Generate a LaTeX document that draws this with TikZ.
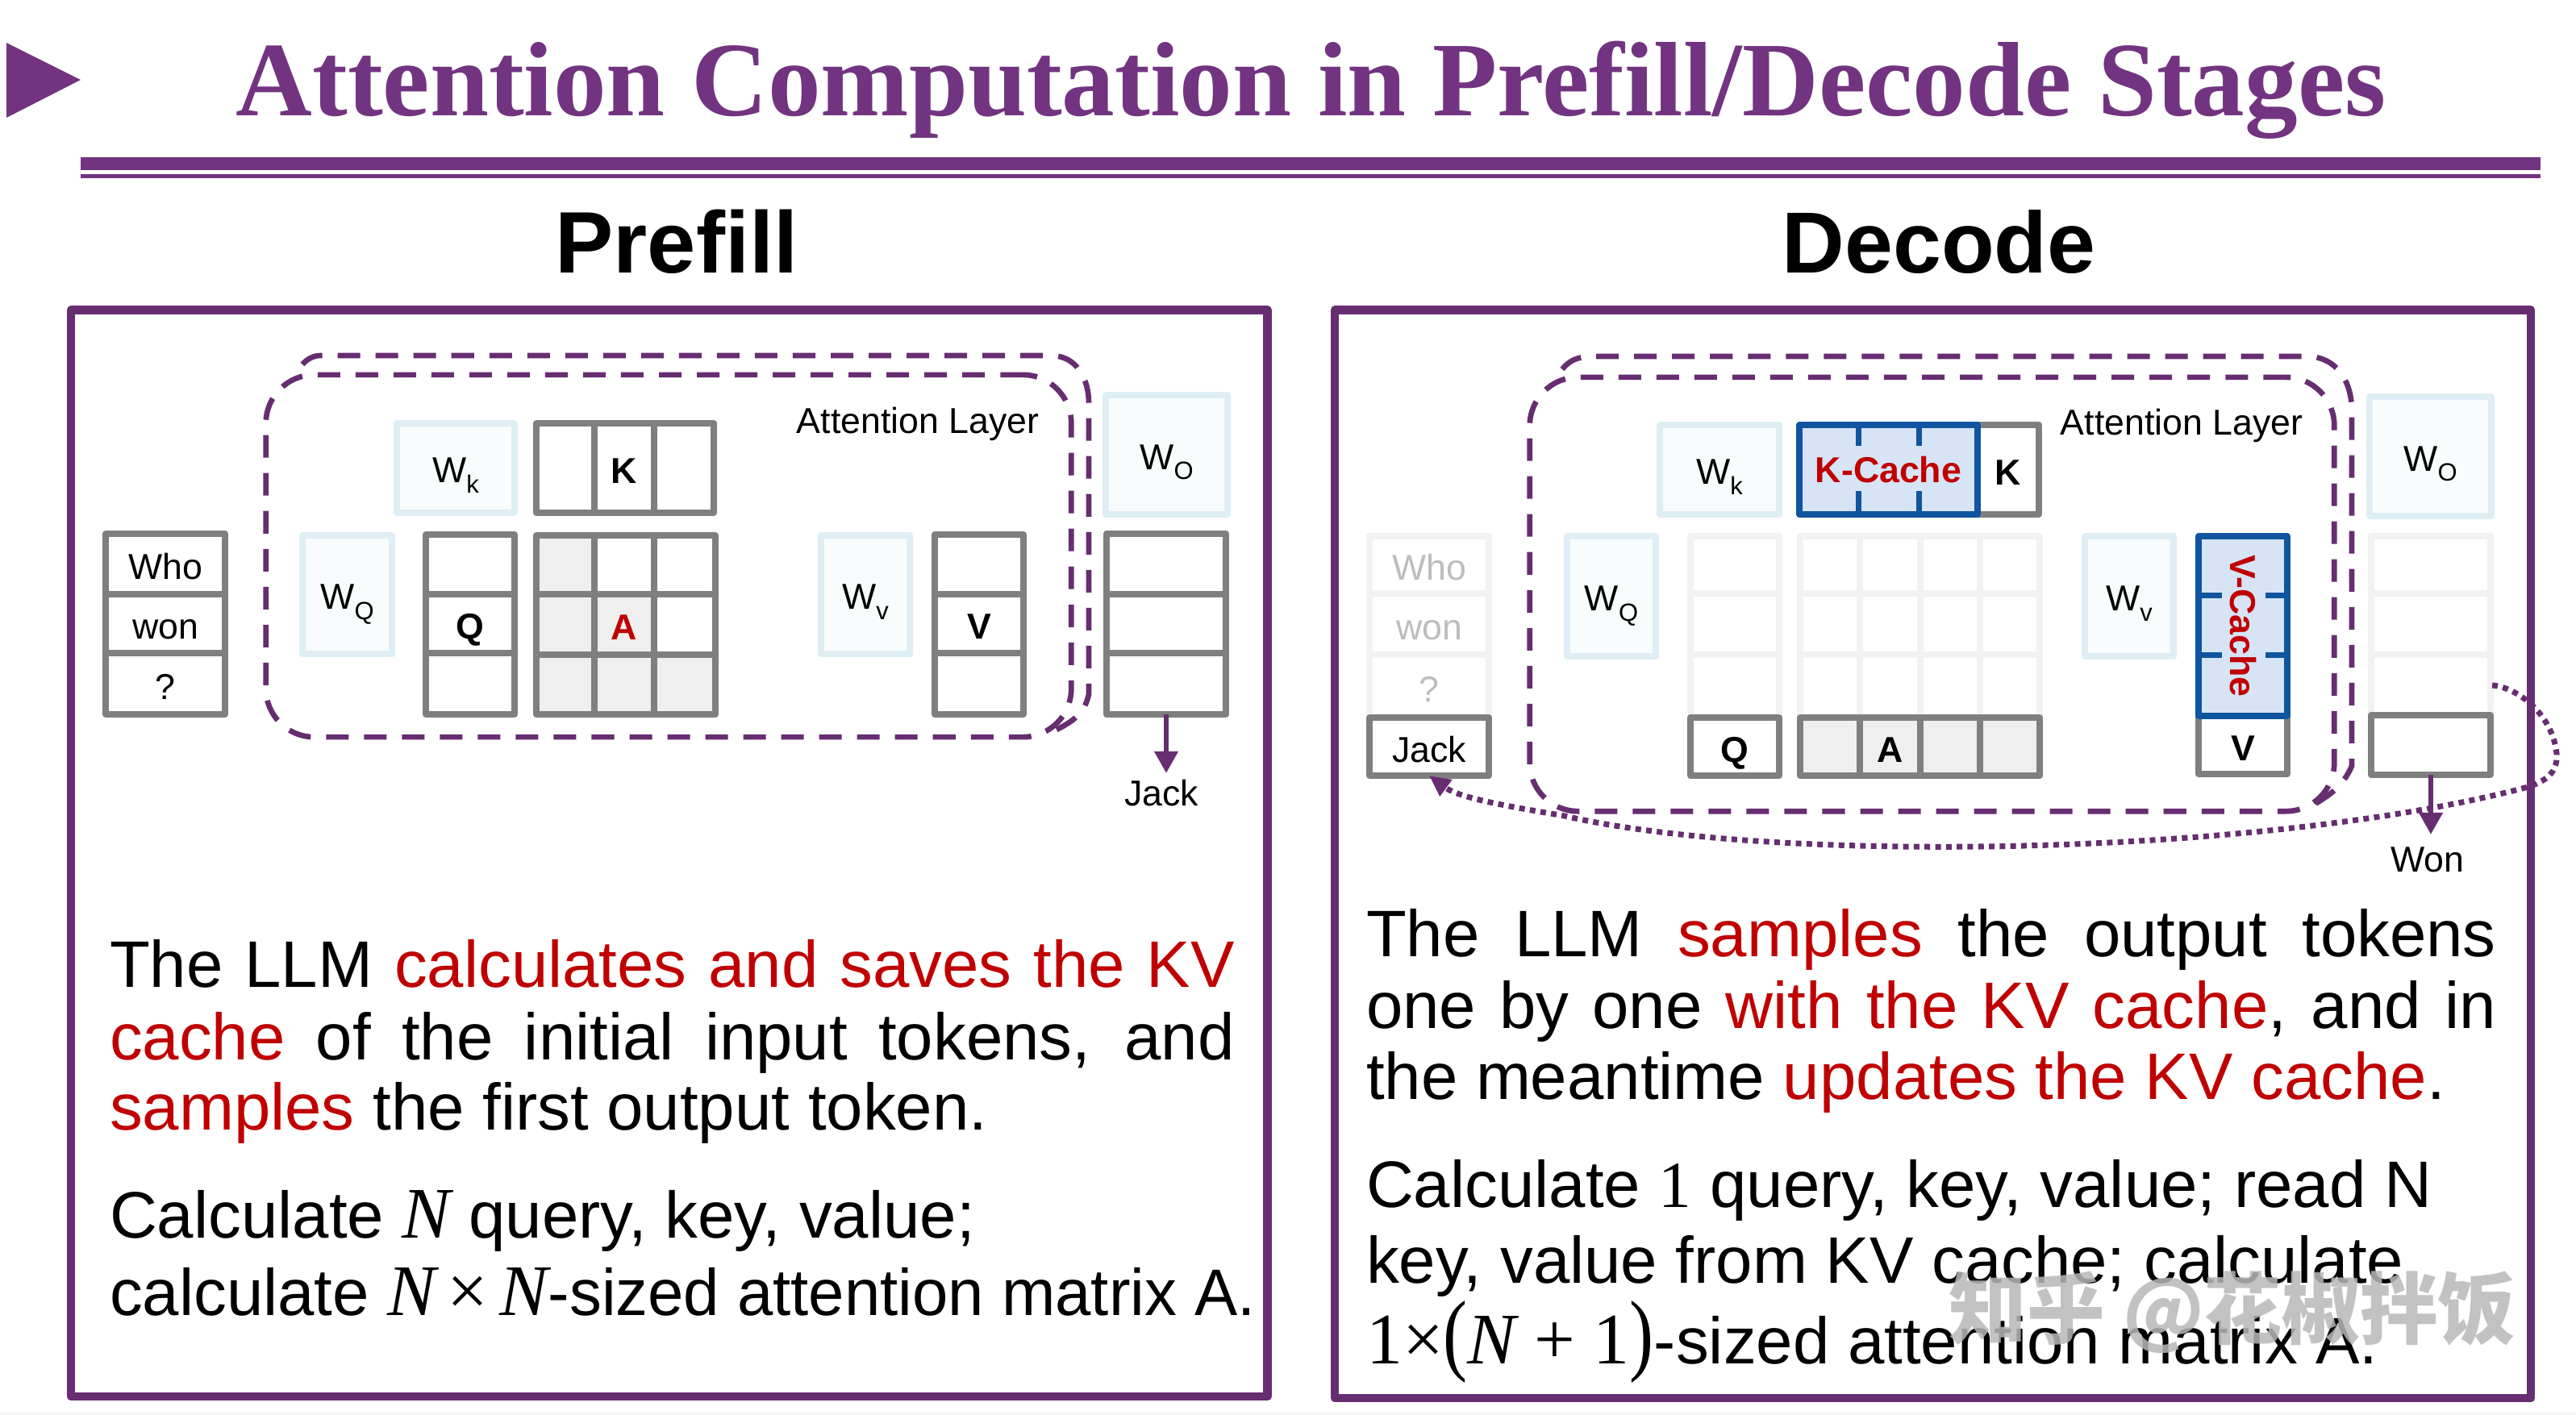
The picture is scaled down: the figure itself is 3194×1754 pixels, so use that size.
\documentclass[tikz,border=0pt]{standalone}
\usepackage{fontspec}
\usepackage{graphicx}
\usepackage{xcolor}
\usetikzlibrary{arrows.meta}
\setmainfont{Liberation Sans}
\newfontfamily\serifN{Liberation Serif}
\newfontfamily\cjkfont{Noto Sans CJK SC}
\definecolor{titlepurple}{HTML}{723480}
\definecolor{boxpurple}{HTML}{672D71}
\definecolor{cellgray}{HTML}{7F7F7F}
\definecolor{fadeline}{HTML}{F2F2F2}
\definecolor{fadetext}{HTML}{BDBDBD}
\definecolor{shade}{HTML}{EFEFEF}
\definecolor{wborder}{HTML}{DEEEF4}
\definecolor{wfill}{HTML}{F8FCFD}
\definecolor{cacheblue}{HTML}{0F559F}
\definecolor{cachefill}{HTML}{D6E4F5}
\definecolor{hot}{HTML}{C00000}
\newcommand{\smallsz}{\fontsize{12.7}{14}\selectfont}
\newcommand{\subsz}{\fontsize{8.8}{10}\selectfont}
\newcommand{\paraSz}{\fontsize{23.2}{27}\selectfont}
\newcommand{\wlabel}[1]{W\raisebox{-0.28em}{\subsz #1}}
\newcommand{\hotc}[1]{\textcolor{hot}{#1}}
\newcommand{\mathN}{{\fontsize{25.6}{27}\selectfont\serifN\itshape N}}
\newcommand{\mathR}[1]{{\fontsize{25.6}{27}\selectfont\serifN #1}}
\newcommand{\cellbox}[7]{\node[#6,minimum width={(#3-#2)*0.01cm},minimum height={(#5-#4)*0.01cm}] (#1) at ({(#2+#3)/2},{(#4+#5)/2}) {#7};}
\tikzset{
 gridcell/.style={draw=cellgray,line width=0.075cm,line join=round,inner sep=0,outer sep=0,font=\smallsz,text=black,text height=0.38cm,text depth=0cm},
 shaded/.style={gridcell,fill=shade},
 fadecell/.style={draw=fadeline,line width=0.075cm,line join=round,inner sep=0,outer sep=0,font=\smallsz,text=fadetext,text height=0.38cm,text depth=0cm},
 wbox/.style={draw=wborder,fill=wfill,line width=0.075cm,line join=round,inner sep=0,outer sep=0,font=\smallsz,text=black,text height=0.36cm,text depth=0cm},
 cachebox/.style={draw=cacheblue,fill=cachefill,line width=0.075cm,line join=round,inner sep=0,outer sep=0,font=\smallsz\bfseries,text=hot},
 tick/.style={draw=cacheblue,line width=0.07cm},
 panel/.style={draw=boxpurple,line width=0.107cm,line join=round},
 layerdash/.style={draw=boxpurple,line width=0.067cm,dash pattern=on 0.28cm off 0.19cm},
 flow/.style={draw=boxpurple,line width=0.067cm,-{Triangle[length=0.27cm,width=0.28cm]}},
 loopflow/.style={draw=boxpurple,line width=0.07cm,dash pattern=on 0.07cm off 0.063cm,-{Triangle[length=0.26cm,width=0.24cm]}},
 plain/.style={font=\smallsz,inner sep=0,outer sep=0,text=black},
 para/.style={font=\paraSz,anchor=base west,inner sep=0,outer sep=0,text=black},
}
\begin{document}
\begin{tikzpicture}[x=0.01cm,y=-0.01cm]
\useasboundingbox (0,0) rectangle (3194,1754);
\fill[white] (0,0) rectangle (3194,1754);
\fill[fadeline] (0,1752) rectangle (3194,1754);
% header
\fill[titlepurple] (8,53) -- (100,99) -- (8,146) -- cycle;
\node[anchor=base west,inner sep=0,text=titlepurple] (title) at (292,143) {\resizebox{26.64cm}{!}{\fontsize{39}{45}\selectfont\serifN\bfseries Attention Computation in Prefill/Decode Stages}};
\fill[titlepurple] (100,195) rectangle (3150,211);
\fill[titlepurple] (100,216) rectangle (3150,221);
\node[anchor=base,inner sep=0,font=\fontsize{30.8}{34}\selectfont\bfseries] (prefillhead) at (839,338) {Prefill};
\node[anchor=base,inner sep=0,font=\fontsize{30.6}{34}\selectfont\bfseries] (decodehead) at (2404,338) {Decode};
\draw[panel] (88,384.5) rectangle (1571.5,1732);
\draw[panel] (1655,384.5) rectangle (3138,1734);

% ---------- PREFILL ----------
\node[layerdash,rounded corners=0.6cm,minimum width=9.98cm,minimum height=4.49cm,inner sep=0] (layerL) at (829,689.5) {};
\draw[layerdash] (375,452) .. controls (380,446) and (388,441) .. (397,441) -- (1303,441) .. controls (1335,441) and (1350,470) .. (1350,500) -- (1350,861) .. controls (1345,885) and (1330,895) .. (1308,906);
\cellbox{whoL}{131}{279}{662}{737}{gridcell}{Who}
\cellbox{wonL}{131}{279}{737}{810}{gridcell}{won}
\cellbox{qmL}{131}{279}{810}{886}{gridcell}{?}
\cellbox{wqL}{375}{486}{664}{811}{wbox}{\wlabel{Q}}
\cellbox{wkL}{492}{638}{525}{636}{wbox}{\wlabel{k}}
\cellbox{k1L}{665}{737}{525}{636}{gridcell}{}
\cellbox{k2L}{737}{811}{525}{636}{gridcell}{\bfseries K}
\cellbox{k3L}{811}{885}{525}{636}{gridcell}{}
\cellbox{q1L}{528}{638}{663}{737}{gridcell}{}
\cellbox{q2L}{528}{638}{737}{810}{gridcell}{\bfseries Q}
\cellbox{q3L}{528}{638}{810}{886}{gridcell}{}
\cellbox{a11L}{665}{737}{664}{737}{shaded}{}
\cellbox{a12L}{737}{811}{664}{737}{gridcell}{}
\cellbox{a13L}{811}{887}{664}{737}{gridcell}{}
\cellbox{a21L}{665}{737}{737}{812}{shaded}{}
\cellbox{a22L}{737}{811}{737}{812}{shaded}{\bfseries\textcolor{hot}{A}}
\cellbox{a23L}{811}{887}{737}{812}{gridcell}{}
\cellbox{a31L}{665}{737}{812}{886}{shaded}{}
\cellbox{a32L}{737}{811}{812}{886}{shaded}{}
\cellbox{a33L}{811}{887}{812}{886}{shaded}{}
\cellbox{wvL}{1018}{1128}{664}{811}{wbox}{\wlabel{v}}
\cellbox{v1L}{1159}{1269}{663}{737}{gridcell}{}
\cellbox{v2L}{1159}{1269}{737}{810}{gridcell}{\bfseries V}
\cellbox{v3L}{1159}{1269}{810}{886}{gridcell}{}
\cellbox{woL}{1371}{1522}{490}{638}{wbox}{\wlabel{O}}
\cellbox{o1L}{1372}{1520}{662}{737}{gridcell}{}
\cellbox{o2L}{1372}{1520}{737}{810}{gridcell}{}
\cellbox{o3L}{1372}{1520}{810}{886}{gridcell}{}
\node[plain] (attL) at (1138,526) {Attention Layer};
\node[plain,minimum height=0.5cm] (jackL) at (1440,984) {Jack};
\draw[flow] (o3L.south) -- (o3L.south |- jackL.north);
% paragraph left
\node[para] (pl1) at (136,1224) {\makebox[13.94cm][s]{The LLM \hotc{calculates and saves the KV}}};
\node[para] (pl2) at (136,1314) {\makebox[13.94cm][s]{\hotc{cache} of the initial input tokens, and}};
\node[para] (pl3) at (136,1401) {\hotc{samples} the first output token.};
\node[para] (pl4) at (136,1535) {Calculate \mathN{} query, key, value;};
\node[para] (pl5) at (136,1631) {calculate \mathN\kern4pt\mathR{×}\kern4pt\mathN\scalebox{0.977}[1]{-sized attention matrix A.}};

% ---------- DECODE ----------
\node[layerdash,rounded corners=0.6cm,minimum width=9.97cm,minimum height=5.38cm,inner sep=0] (layerR) at (2395.5,737) {};
\draw[layerdash] (1937,458) .. controls (1945,448) and (1955,442) .. (1975,442) -- (2860,442) .. controls (2895,442) and (2916,470) .. (2916,510) -- (2916,950) .. controls (2905,975) and (2890,985) .. (2869,998);
\cellbox{whoR}{1698}{1846}{665}{736}{fadecell}{Who}
\cellbox{wonR}{1698}{1846}{736}{812}{fadecell}{won}
\cellbox{qmR}{1698}{1846}{812}{890}{fadecell}{?}
\cellbox{jackR}{1698}{1846}{890}{962}{gridcell}{Jack}
\cellbox{wqR}{1943}{2053}{665}{814}{wbox}{\wlabel{Q}}
\cellbox{wkR}{2058}{2206}{527}{638}{wbox}{\wlabel{k}}
\cellbox{kR}{2452}{2528}{527}{638}{gridcell}{\bfseries K}
\cellbox{kcache}{2231}{2452}{527}{638}{cachebox}{K-Cache}
\draw[tick] (kcache.north -| 2304,0) -- ++(0,26);
\draw[tick] (kcache.north -| 2379,0) -- ++(0,26);
\draw[tick] (kcache.south -| 2304,0) -- ++(0,-29);
\draw[tick] (kcache.south -| 2379,0) -- ++(0,-29);
\cellbox{q1R}{2096}{2206}{665}{736}{fadecell}{}
\cellbox{q2R}{2096}{2206}{736}{812}{fadecell}{}
\cellbox{q3R}{2096}{2206}{812}{890}{fadecell}{}
\foreach \ya/\yb/\r in {665/736/1,736/812/2,812/890/3}{
\cellbox{a\r1R}{2232}{2306}{\ya}{\yb}{fadecell}{}
\cellbox{a\r2R}{2306}{2381}{\ya}{\yb}{fadecell}{}
\cellbox{a\r3R}{2381}{2455}{\ya}{\yb}{fadecell}{}
\cellbox{a\r4R}{2455}{2529}{\ya}{\yb}{fadecell}{}
}
\cellbox{wvR}{2585}{2695}{665}{814}{wbox}{\wlabel{v}}
\cellbox{o1R}{2940}{3088}{665}{736}{fadecell}{}
\cellbox{o2R}{2940}{3088}{736}{812}{fadecell}{}
\cellbox{o3R}{2940}{3088}{812}{887}{fadecell}{}
\cellbox{q4R}{2096}{2206}{890}{962}{gridcell}{\bfseries Q}
\cellbox{a41R}{2232}{2306}{890}{962}{shaded}{}
\cellbox{a42R}{2306}{2381}{890}{962}{shaded}{\bfseries A}
\cellbox{a43R}{2381}{2455}{890}{962}{shaded}{}
\cellbox{a44R}{2455}{2529}{890}{962}{shaded}{}
\cellbox{v4R}{2726}{2836}{888}{960}{gridcell}{\bfseries V}
\cellbox{vcache}{2726}{2836}{665}{888}{cachebox}{\rotatebox{-90}{V-Cache}}
\draw[tick] (vcache.west |- 0,738) -- ++(29,0);
\draw[tick] (vcache.west |- 0,812) -- ++(29,0);
\draw[tick] (vcache.east |- 0,738) -- ++(-27,0);
\draw[tick] (vcache.east |- 0,812) -- ++(-27,0);
\cellbox{woR}{2938}{3089}{492}{640}{wbox}{\wlabel{O}}
\cellbox{o4R}{2940}{3088}{887}{961}{gridcell}{}
\node[plain] (attR) at (2705,528) {Attention Layer};
\node[plain,minimum height=0.62cm] (wonOut) at (3010,1066) {Won};
\draw[flow] (o4R.south) -- (o4R.south |- wonOut.north);
\coordinate (loopstart) at (3090,850);
\draw[loopflow] (loopstart) .. controls (3120,852) and (3165,885) .. (3170,935) .. controls (3172,962) and (3150,972) .. (3127,978) .. controls (2800,1062) and (2200,1072) .. (1940,1012) .. controls (1870,1000) and (1810,990) .. (jackR.south);
% paragraph right
\node[para] (pr1) at (1694,1186) {\makebox[14cm][s]{The LLM \hotc{samples} the output tokens}};
\node[para] (pr2) at (1694,1275) {\makebox[14cm][s]{one by one \hotc{with the KV cache}, and in}};
\node[para] (pr3) at (1694,1363) {the meantime \hotc{updates the KV cache}.};
\node[para] (pr4) at (1694,1497) {Calculate {\serifN 1} query, key, value; read N};
\node[para] (pr5) at (1694,1591) {key, value from KV cache; calculate};
\node[para] (pr6) at (1694,1691) {\mathR{1×}\scalebox{1}[1.25]{\mathR{(}}\mathN{} \mathR{+} \mathR{1}\scalebox{1}[1.25]{\mathR{)}}-sized attention matrix A.};
% watermark
\node[inner sep=0,anchor=center,text=black!28,opacity=0.85,font=\fontsize{27.5}{32}\selectfont\cjkfont\bfseries] (wm) at (2768,1628) {知乎 @花椒拌饭};
\end{tikzpicture}
\end{document}
